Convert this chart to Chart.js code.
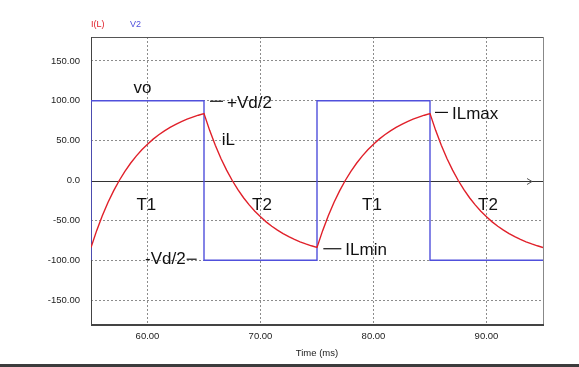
<!DOCTYPE html>
<html>
<head>
<meta charset="utf-8">
<script src="https://cdn.jsdelivr.net/npm/chart.js@4.4.0/dist/chart.umd.min.js"></script>
<style>
  html, body { margin: 0; padding: 0; background: #fff; }
  canvas { display: block; }
</style>
</head>
<body>
<canvas id="chart" width="579" height="367"></canvas>
<script>
// Inductor current I(L), sampled every 0.5 ms
const timeIL = [
  55, 55.5, 56, 56.5, 57, 57.5, 58, 58.5, 59, 59.5, 60, 60.5, 61, 61.5, 62, 62.5, 63, 63.5, 64, 64.5, 65,
  65.5, 66, 66.5, 67, 67.5, 68, 68.5, 69, 69.5, 70, 70.5, 71, 71.5, 72, 72.5, 73, 73.5, 74, 74.5, 75,
  75.5, 76, 76.5, 77, 77.5, 78, 78.5, 79, 79.5, 80, 80.5, 81, 81.5, 82, 82.5, 83, 83.5, 84, 84.5, 85,
  85.5, 86, 86.5, 87, 87.5, 88, 88.5, 89, 89.5, 90, 90.5, 91, 91.5, 92, 92.5, 93, 93.5, 94, 94.5, 95
];
const valuesIL = [
  -84, -62.9, -44.2, -27.6, -13, 0, 11.5, 21.6, 30.6, 38.6, 45.6, 51.9, 57.4, 62.3, 66.6, 70.5, 73.9, 76.9, 79.5, 81.9, 84,
  62.9, 44.2, 27.6, 13, 0, -11.5, -21.6, -30.6, -38.6, -45.6, -51.9, -57.4, -62.3, -66.6, -70.5, -73.9, -76.9, -79.5, -81.9, -84,
  -62.9, -44.2, -27.6, -13, 0, 11.5, 21.6, 30.6, 38.6, 45.6, 51.9, 57.4, 62.3, 66.6, 70.5, 73.9, 76.9, 79.5, 81.9, 84,
  62.9, 44.2, 27.6, 13, 0, -11.5, -21.6, -30.6, -38.6, -45.6, -51.9, -57.4, -62.3, -66.6, -70.5, -73.9, -76.9, -79.5, -81.9, -84
];

// Output voltage V2 (square wave)
const timeV2 = [55, 55, 65, 65, 75, 75, 85, 85, 95];
const valuesV2 = [-100, 100, 100, -100, -100, 100, 100, -100, -100];

const seriesNames = ['I(L)', 'V2'];
const seriesColors = ['#e0202a', '#5050dc'];

const xTicks = [60, 70, 80, 90];
const xTickLabels = ['60.00', '70.00', '80.00', '90.00'];
const yTicks = [-150, -100, -50, 0, 50, 100, 150];
const yTickLabels = ['-150.00', '-100.00', '-50.00', '0.0', '50.00', '100.00', '150.00'];

// text notes on the plot (x in ms, y in value units at the text baseline)
const notes = [
  { text: 'vo', x: 59.56, y: 110, align: 'center' },
  { text: '+Vd/2', x: 65.53, y: 91, lead: 13 },
  { text: 'iL', x: 67.15, y: 45, align: 'center' },
  { text: 'T1', x: 59.9, y: -37.5, align: 'center' },
  { text: 'T2', x: 70.13, y: -37.5, align: 'center' },
  { text: 'T1', x: 79.87, y: -37.5, align: 'center' },
  { text: 'T2', x: 90.13, y: -37.5, align: 'center' },
  { text: '-Vd/2', x: 59.78, y: -105, trail: 10 },
  { text: 'ILmin', x: 75.56, y: -94, lead: 18 },
  { text: 'ILmax', x: 85.44, y: 77, lead: 13 }
];

const FONT = '"Liberation Sans", Arial, sans-serif';

const decorPlugin = {
  id: 'decor',
  beforeDatasetsDraw(chart) {
    const { ctx, chartArea: a, scales } = chart;
    ctx.save();
    // frame
    ctx.lineWidth = 1;
    ctx.strokeStyle = '#555';
    ctx.beginPath();
    ctx.moveTo(a.left, a.top + 0.5); ctx.lineTo(a.right + 1, a.top + 0.5);
    ctx.stroke();
    ctx.strokeStyle = '#888';
    ctx.beginPath();
    ctx.moveTo(a.right + 0.5, a.top); ctx.lineTo(a.right + 0.5, a.bottom + 1);
    ctx.stroke();
    ctx.strokeStyle = '#444';
    ctx.beginPath();
    ctx.moveTo(a.left + 0.5, a.top); ctx.lineTo(a.left + 0.5, a.bottom + 1);
    ctx.stroke();
    ctx.lineWidth = 2;
    ctx.beginPath();
    ctx.moveTo(a.left, a.bottom + 1); ctx.lineTo(a.right + 1, a.bottom + 1);
    ctx.stroke();

    // zero axis with arrow
    const y0 = Math.round(scales.y.getPixelForValue(0)) + 0.5;
    ctx.lineWidth = 1;
    ctx.strokeStyle = '#333';
    ctx.beginPath();
    ctx.moveTo(a.left, y0); ctx.lineTo(a.right, y0);
    ctx.stroke();
    const ax = a.right - 11;
    ctx.strokeStyle = '#555';
    ctx.beginPath();
    ctx.moveTo(ax - 5, y0 - 3); ctx.lineTo(ax, y0); ctx.lineTo(ax - 5, y0 + 3);
    ctx.stroke();
    ctx.restore();
  },
  afterDraw(chart) {
    const { ctx, chartArea: a, scales } = chart;
    ctx.save();
    // notes
    ctx.font = '17px ' + FONT;
    ctx.textBaseline = 'alphabetic';
    ctx.fillStyle = '#111';
    ctx.strokeStyle = '#111';
    ctx.lineWidth = 1.2;
    notes.forEach(n => {
      let px = scales.x.getPixelForValue(n.x);
      const py = scales.y.getPixelForValue(n.y);
      if (n.lead) {
        ctx.beginPath();
        ctx.moveTo(px, py - 6.7); ctx.lineTo(px + n.lead, py - 6.7);
        ctx.stroke();
        px += n.lead + 4;
      }
      ctx.textAlign = n.align || 'left';
      ctx.fillText(n.text, px, py);
      if (n.trail) {
        const w = ctx.measureText(n.text).width;
        ctx.beginPath();
        ctx.moveTo(px + w + 1, py - 5); ctx.lineTo(px + w + 1 + n.trail, py - 5);
        ctx.stroke();
      }
    });

    // series names above the plot
    ctx.font = '9px ' + FONT;
    ctx.textAlign = 'left';
    ctx.fillStyle = seriesColors[0];
    ctx.fillText(seriesNames[0], a.left, 27);
    ctx.fillStyle = seriesColors[1];
    ctx.fillText(seriesNames[1], a.left + 39, 27);

    // dark band at the bottom of the picture
    ctx.fillStyle = '#3c3c3c';
    ctx.fillRect(0, 364, chart.width, 3);
    ctx.restore();
  }
};

new Chart(document.getElementById('chart'), {
  type: 'line',
  data: {
    datasets: [
      {
        label: seriesNames[0],
        data: timeIL.map((t, i) => ({ x: t, y: valuesIL[i] })),
        borderColor: seriesColors[0],
        borderWidth: 1.4,
        pointRadius: 0,
        tension: 0
      },
      {
        label: seriesNames[1],
        data: timeV2.map((t, i) => ({ x: t, y: valuesV2[i] })),
        borderColor: seriesColors[1],
        borderWidth: 1.4,
        pointRadius: 0,
        tension: 0
      }
    ]
  },
  options: {
    responsive: false,
    animation: false,
    devicePixelRatio: 1,
    layout: { padding: { left: 0, top: 37, right: 36, bottom: 0 } },
    plugins: {
      legend: { display: false },
      tooltip: { enabled: false }
    },
    scales: {
      x: {
        type: 'linear',
        min: 55,
        max: 95,
        afterBuildTicks: s => { s.ticks = xTicks.map(v => ({ value: v })); },
        afterFit: s => { s.height = 43; },
        grid: { color: '#8c8c8c', lineWidth: 1, drawTicks: false },
        border: { display: false, dash: [2, 2] },
        ticks: {
          padding: 7,
          color: '#222',
          font: { family: FONT, size: 9.5 },
          maxRotation: 0,
          callback: (v, i) => xTickLabels[i]
        },
        title: {
          display: true,
          text: 'Time (ms)',
          color: '#222',
          font: { family: FONT, size: 9.5 },
          padding: { top: 0, bottom: 8 }
        }
      },
      y: {
        type: 'linear',
        min: -180,
        max: 180,
        afterBuildTicks: s => { s.ticks = yTicks.map(v => ({ value: v })); },
        afterFit: s => { s.width = 91; },
        grid: {
          color: c => (c.tick && c.tick.value === 0 ? 'rgba(0,0,0,0)' : '#8c8c8c'),
          lineWidth: 1,
          drawTicks: false
        },
        border: { display: false, dash: [2, 2] },
        ticks: {
          padding: 11,
          color: '#222',
          font: { family: FONT, size: 9.5 },
          callback: (v, i) => yTickLabels[i]
        }
      }
    }
  },
  plugins: [decorPlugin]
});
</script>
</body>
</html>
